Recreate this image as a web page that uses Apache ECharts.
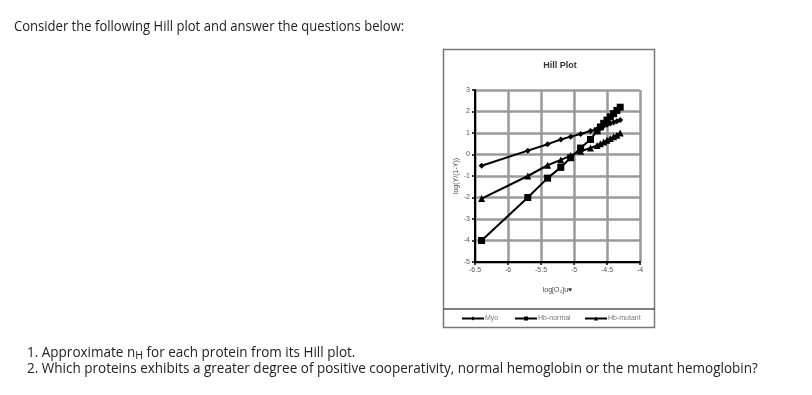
<!DOCTYPE html>
<html><head><meta charset="utf-8">
<script src="https://cdn.jsdelivr.net/npm/echarts@6/dist/echarts.min.js"></script>
<style>html,body{margin:0;padding:0;background:#fff}#c{width:812px;height:395px}</style>
</head><body><div id="c"></div>
<script>
const logO2 = [-6.4, -5.7, -5.4, -5.2, -5.05, -4.9, -4.75, -4.65, -4.6, -4.55, -4.5, -4.45, -4.4, -4.35, -4.3];
const myo = [-0.52, 0.18, 0.48, 0.7, 0.83, 0.95, 1.09, 1.18, 1.25, 1.32, 1.38, 1.44, 1.49, 1.55, 1.6];
const hbNormal = [-4.0, -2.0, -1.1, -0.6, -0.15, 0.3, 0.7, 1.1, 1.28, 1.45, 1.6, 1.75, 1.9, 2.05, 2.2];
const hbMutant = [-2.05, -1.0, -0.5, -0.25, -0.05, 0.15, 0.3, 0.42, 0.5, 0.58, 0.66, 0.74, 0.82, 0.9, 1.0];
const seriesNames = ['Myo', 'Hb-normal', 'Hb-mutant'];

const pair = ys => logO2.map((x, i) => [x, ys[i]]);
const chart = echarts.init(document.getElementById('c'));
const axisFont = {fontFamily: 'Liberation Sans', fontSize: 7, color: '#555'};
function mk(name, ys, symbol, size) {
  return {name, type: 'line', data: pair(ys), symbol, symbolSize: size,
    lineStyle: {color: '#000', width: 2}, itemStyle: {color: '#000'}, z: 5};
}
const legendLefts = [461, 514, 584];
chart.setOption({
  animation: false,
  grid: {left: 475, right: 172, top: 90, bottom: 133},
  title: {text: 'Hill Plot', left: 555, top: 56, textAlign: 'center',
    textStyle: {fontFamily: 'Liberation Sans', fontSize: 9, fontWeight: 'bold', color: '#333'}},
  legend: seriesNames.map((n, i) => ({data: [n], left: legendLefts[i], top: 315, itemWidth: 22, itemHeight: 5, padding: 0,
    textStyle: {fontFamily: 'Liberation Sans', fontSize: 7, color: '#777', padding: [0, 0, 0, -4]}})),
  xAxis: {type: 'value', min: -6.5, max: -4, interval: 0.5,
    name: 'log[O₂]u♥', nameLocation: 'middle', nameGap: 25,
    nameTextStyle: {fontFamily: 'Liberation Sans', fontSize: 7, color: '#444'},
    axisLine: {onZero: false, lineStyle: {color: '#000', width: 2}},
    axisTick: {length: 3, lineStyle: {color: '#000', width: 1.5}},
    axisLabel: Object.assign({margin: 5, formatter: v => String(v)}, axisFont),
    splitLine: {show: true, lineStyle: {color: '#9a9a9a', width: 2.5}}},
  yAxis: {type: 'value', min: -5, max: 3, interval: 1,
    name: 'log(Y/(1-Y))', nameLocation: 'middle', nameGap: 15,
    nameTextStyle: {fontFamily: 'Liberation Sans', fontSize: 7, color: '#444'},
    axisLine: {onZero: false, lineStyle: {color: '#000', width: 2}},
    axisTick: {length: 3, lineStyle: {color: '#000', width: 1.5}},
    axisLabel: Object.assign({margin: 5}, axisFont),
    splitLine: {show: true, lineStyle: {color: '#9a9a9a', width: 2.5}}},
  series: [mk(seriesNames[0], myo, 'diamond', 6), mk(seriesNames[1], hbNormal, 'rect', 7), mk(seriesNames[2], hbMutant, 'triangle', 7)],
  graphic: [
    {type: 'text', x: 14, y: 19, scaleX: 0.87, style: {text: 'Consider the following Hill plot and answer the questions below:', fontFamily: 'Open Sans', fontSize: 15, fill: '#222'}},
    {type: 'rect', shape: {x: 443.5, y: 49.5, width: 211, height: 278}, style: {fill: 'none', stroke: '#777', lineWidth: 1.5}, z: -1},
    {type: 'line', shape: {x1: 443, y1: 309, x2: 655, y2: 309}, style: {stroke: '#555', lineWidth: 1.5}},
    {type: 'text', x: 27, y: 345, scaleX: 0.965, style: {text: '1. Approximate n{s|H} for each protein from its Hill plot.', fontFamily: 'Open Sans', fontSize: 14, fill: '#222',
      rich: {s: {fontFamily: 'Open Sans', fontSize: 11, fill: '#222', padding: [5, 0, 0, 0]}}}},
    {type: 'text', x: 27, y: 362, scaleX: 0.965, style: {text: '2. Which proteins exhibits a greater degree of positive cooperativity, normal hemoglobin or the mutant hemoglobin?', fontFamily: 'Open Sans', fontSize: 14, fill: '#222'}}
  ]
});
</script></body></html>
